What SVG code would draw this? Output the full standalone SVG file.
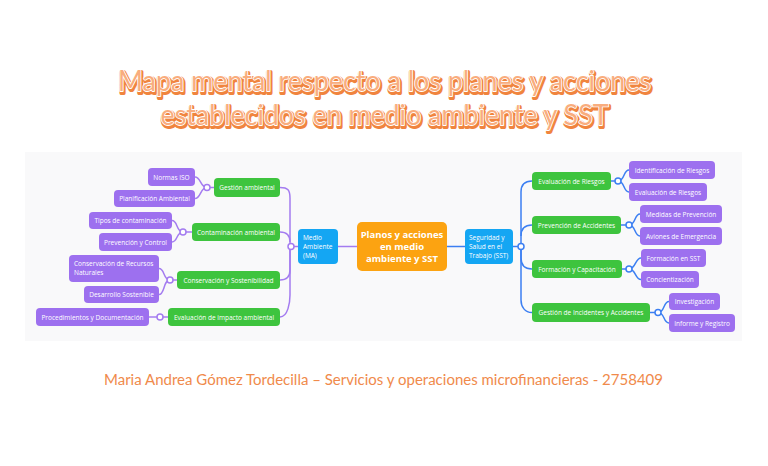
<svg xmlns="http://www.w3.org/2000/svg" width="768" height="466" viewBox="0 0 768 466">
<style>
.t1{font-family:"Lato","Open Sans","Liberation Sans",sans-serif;font-weight:400;font-size:28px;text-anchor:middle}
.tsh{fill:#f0843e;stroke:#f0843e;stroke-width:4;stroke-linejoin:round}
.tfg{fill:#f9ad7e;stroke:#ffffff;stroke-width:1.8;stroke-linejoin:round;paint-order:stroke}
.foot{font-family:"Lato","Open Sans","Liberation Sans",sans-serif;font-size:14.5px;fill:#f08a4b}
.g rect{fill:#3ec43e}
.p rect{fill:#9d70ef}
.b rect{fill:#14a6f3}
.o rect{fill:#fca311}
.n text{font-family:"Open Sans","Liberation Sans",sans-serif;font-size:6.5px;fill:#ffffff;text-anchor:middle}
.n text.l{text-anchor:start}
.o text{font-size:9.5px;font-weight:700}
.cp{fill:none;stroke:#a47cf0;stroke-width:1.5}
.cb{fill:none;stroke:#3c7ff2;stroke-width:1.5}
.dp{fill:#fff;stroke:#a47cf0;stroke-width:1.5}
.db{fill:#fff;stroke:#3c7ff2;stroke-width:1.5}
</style>
<rect width="768" height="466" fill="#ffffff"/>
<rect x="25" y="152" width="717" height="189" fill="#f9f9fa"/>

<g id="title">
<text class="t1 tsh" x="385.5" y="92.5" textLength="533" lengthAdjust="spacingAndGlyphs">Mapa mental respecto a los planes y acciones</text>
<text class="t1 tfg" x="384.5" y="91" textLength="533" lengthAdjust="spacingAndGlyphs">Mapa mental respecto a los planes y acciones</text>
<text class="t1 tsh" x="385.5" y="126.5" textLength="448" lengthAdjust="spacingAndGlyphs">establecidos en medio ambiente y SST</text>
<text class="t1 tfg" x="384.5" y="125" textLength="448" lengthAdjust="spacingAndGlyphs">establecidos en medio ambiente y SST</text>
</g>

<g id="connectors">
<line class="cp" x1="338" y1="246.5" x2="357" y2="246.5"/>
<line class="cb" x1="447" y1="246.5" x2="465" y2="246.5"/>
<line class="cp" x1="298" y1="246.5" x2="291" y2="246.5"/>
<line class="cb" x1="513" y1="246.5" x2="521" y2="246.5"/>
<path class="cp" d="M280,187.5 C288,187.5 290,190 290,198 V295 C290,302 288,317 280,317"/>
<path class="cp" d="M280,232 C287,232 290,235 290,242"/>
<path class="cp" d="M280,280 C287,280 290,277 290,270 V246"/>
<path class="cb" d="M532,181 C525,181 521,184 521,192 V300 C521,307 525,312.5 532,312.5"/>
<path class="cb" d="M532,225 C526,225 521,228 521,236"/>
<path class="cb" d="M532,269 C526,269 521,266 521,258 V246"/>
<line class="cp" x1="214" y1="187.5" x2="207" y2="187.5"/>
<path class="cp" d="M207,187.5 C200,187.5 201,177 195,177 M207,187.5 C200,187.5 201,198.5 195,198.5"/>
<line class="cp" x1="192" y1="232" x2="183" y2="232"/>
<path class="cp" d="M183,232 C176,232 178,220.5 172,220.5 M183,232 C176,232 178,242 172,242"/>
<line class="cp" x1="177" y1="280" x2="170" y2="280"/>
<path class="cp" d="M170,280 C163,280 165,268.5 159,268.5 M170,280 C163,280 165,294.5 159,294.5"/>
<line class="cp" x1="168" y1="317" x2="149" y2="317"/>
<line class="cb" x1="611" y1="181" x2="618" y2="181"/>
<path class="cb" d="M618,181 C625,181 623,170 629,170 M618,181 C625,181 623,192 629,192"/>
<line class="cb" x1="621" y1="225" x2="629" y2="225"/>
<path class="cb" d="M629,225 C636,225 634,214 640,214 M629,225 C636,225 634,236 640,236"/>
<line class="cb" x1="622" y1="269" x2="629" y2="269"/>
<path class="cb" d="M629,269 C636,269 635,258 641,258 M629,269 C636,269 635,279.5 641,279.5"/>
<line class="cb" x1="650" y1="312.5" x2="658" y2="312.5"/>
<path class="cb" d="M658,312.5 C665,312.5 663,301.5 669,301.5 M658,312.5 C665,312.5 663,323 669,323"/>
<circle class="dp" cx="291" cy="246.5" r="3"/>
<circle class="db" cx="521" cy="246.5" r="3"/>
<circle class="dp" cx="207" cy="187.5" r="3"/>
<circle class="dp" cx="183" cy="232" r="3"/>
<circle class="dp" cx="170" cy="280" r="3"/>
<circle class="dp" cx="160" cy="317" r="3"/>
<circle class="db" cx="618" cy="181" r="3"/>
<circle class="db" cx="629" cy="225" r="3"/>
<circle class="db" cx="629" cy="269" r="3"/>
<circle class="db" cx="658" cy="312.5" r="3"/>
</g>

<g id="central" class="n o"><rect x="357" y="222" width="90" height="49" rx="5"/>
<text x="402" y="238">Planos y acciones</text><text x="402" y="250">en medio</text><text x="402" y="262">ambiente y SST</text></g>

<g id="ma" class="n b"><rect x="298" y="229" width="40" height="35" rx="4"/>
<text class="l" x="303" y="240">Medio</text><text class="l" x="303" y="249">Ambiente</text><text class="l" x="303" y="258">(MA)</text></g>
<g id="sst" class="n b"><rect x="465" y="229" width="48" height="35" rx="4"/>
<text class="l" x="469" y="240">Seguridad y</text><text class="l" x="469" y="249">Salud en el</text><text class="l" x="469" y="258">Trabajo (SST)</text></g>

<g id="gestion-ambiental" class="n g"><rect x="214" y="178" width="66" height="19" rx="4"/><text x="247" y="190">Gestión ambiental</text></g>
<g id="contaminacion" class="n g"><rect x="192" y="223" width="88" height="18" rx="4"/><text x="236" y="234.5">Contaminación ambiental</text></g>
<g id="conservacion" class="n g"><rect x="177" y="271" width="103" height="18" rx="4"/><text x="228.5" y="282.5">Conservación y Sostenibilidad</text></g>
<g id="evaluacion-impacto" class="n g"><rect x="168" y="308" width="112" height="18" rx="4"/><text x="224" y="319.5">Evaluación de impacto ambiental</text></g>

<g id="normas-iso" class="n p"><rect x="148" y="168" width="47" height="18" rx="4"/><text x="171.5" y="179.5">Normas ISO</text></g>
<g id="planificacion" class="n p"><rect x="114" y="190" width="81" height="17" rx="4"/><text x="154.5" y="201">Planificación Ambiental</text></g>
<g id="tipos" class="n p"><rect x="89" y="212" width="83" height="17" rx="4"/><text x="130.5" y="223">Tipos de contaminación</text></g>
<g id="prevencion-control" class="n p"><rect x="99" y="233" width="73" height="18" rx="4"/><text x="135.5" y="244.5">Prevención y Control</text></g>
<g id="recursos" class="n p"><rect x="69" y="255" width="90" height="27" rx="4"/><text class="l" x="74" y="266">Conservación de Recursos</text><text class="l" x="74" y="275">Naturales</text></g>
<g id="desarrollo" class="n p"><rect x="84" y="286" width="75" height="17" rx="4"/><text x="121.5" y="297">Desarrollo Sostenible</text></g>
<g id="procedimientos" class="n p"><rect x="36" y="308" width="113" height="18" rx="4"/><text x="92.5" y="319.5">Procedimientos y Documentación</text></g>

<g id="evaluacion-riesgos" class="n g"><rect x="532" y="172" width="79" height="18" rx="4"/><text x="571.5" y="183.5">Evaluación de Riesgos</text></g>
<g id="prevencion-accidentes" class="n g"><rect x="532" y="216" width="89" height="18" rx="4"/><text x="576.5" y="227.5">Prevención de Accidentes</text></g>
<g id="formacion" class="n g"><rect x="532" y="260" width="90" height="18" rx="4"/><text x="577" y="271.5">Formación y Capacitación</text></g>
<g id="gestion-incidentes" class="n g"><rect x="532" y="303" width="118" height="19" rx="4"/><text x="591" y="315">Gestión de Incidentes y Accidentes</text></g>

<g id="identificacion" class="n p"><rect x="629" y="161" width="86" height="18" rx="4"/><text x="672" y="172.5">Identificación de Riesgos</text></g>
<g id="evaluacion-riesgos-2" class="n p"><rect x="629" y="183" width="78" height="18" rx="4"/><text x="668" y="194.5">Evaluación de Riesgos</text></g>
<g id="medidas" class="n p"><rect x="640" y="205" width="82" height="18" rx="4"/><text x="681" y="216.5">Medidas de Prevención</text></g>
<g id="aviones" class="n p"><rect x="640" y="227" width="82" height="18" rx="4"/><text x="681" y="238.5">Aviones de Emergencia</text></g>
<g id="formacion-sst" class="n p"><rect x="641" y="249" width="65" height="18" rx="4"/><text x="673.5" y="260.5">Formación en SST</text></g>
<g id="concientizacion" class="n p"><rect x="641" y="271" width="58" height="17" rx="4"/><text x="670" y="282">Concientización</text></g>
<g id="investigacion" class="n p"><rect x="669" y="293" width="51" height="17" rx="4"/><text x="694.5" y="304">Investigación</text></g>
<g id="informe" class="n p"><rect x="669" y="314" width="66" height="18" rx="4"/><text x="702" y="325.5">Informe y Registro</text></g>

<text class="foot" x="104" y="385" textLength="559" lengthAdjust="spacingAndGlyphs">Maria Andrea Gómez Tordecilla – Servicios y operaciones microfinancieras - 2758409</text>
</svg>
